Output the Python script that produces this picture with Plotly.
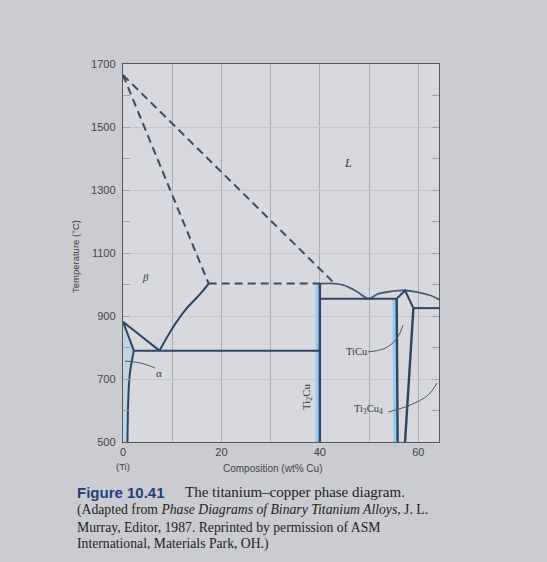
import plotly.graph_objects as go

# ---------------- data ----------------
X_TICKS = [0, 20, 40, 60]
Y_TICKS = [500, 700, 900, 1100, 1300, 1500, 1700]

# dashed liquidus / solidus of beta and the dashed peritectic line
LIQ_DASH_X = [0, 43.0]
LIQ_DASH_T = [1665, 1003]
SOL_DASH_X = [0, 17.4]
SOL_DASH_T = [1665, 1003]
PERI_DASH_X = [17.4, 40.0]
PERI_DASH_T = [1003, 1003]

# solid liquidus on the Cu-rich side
LIQ_X = [40.0, 43.0, 44.8, 47.5, 49.9, 51.8, 54.5, 57.3, 59.8, 62.5, 64.2]
LIQ_T = [1003, 1003, 998, 978, 955, 970, 978, 981, 976, 965, 952]

# beta transus lines
BETA_TR_X = [0, 7.4]
BETA_TR_T = [882, 790]
ALPHA_TR_X = [0, 2.2]
ALPHA_TR_T = [882, 790]

# alpha solvus
ALPHA_SOLV_X = [2.2, 1.4, 1.1, 0.9]
ALPHA_SOLV_T = [790, 718, 645, 500]

# beta / (beta + Ti2Cu)
BETA_SOLV_X = [7.4, 10.2, 12.6, 15.7, 17.4]
BETA_SOLV_T = [790, 865, 918, 970, 1003]

# eutectoid line
EUTECTOID_X = [2.2, 40.0]
EUTECTOID_T = [790, 790]

# Ti2Cu line compound
TI2CU_X = [40.0, 40.0]
TI2CU_T = [500, 1003]

# eutectic line
EUTECTIC_X = [40.0, 55.6]
EUTECTIC_T = [955, 955]

# TiCu phase boundaries
TICU_LEFT_X = [55.6, 55.8]
TICU_LEFT_T = [955, 500]
TICU_TOP_X = [55.6, 57.3, 59.0]
TICU_TOP_T = [955, 981, 925]
TICU_RIGHT_X = [59.0, 57.3]
TICU_RIGHT_T = [925, 500]

# peritectic line for Ti3Cu4
PERI2_X = [59.0, 64.2]
PERI2_T = [925, 925]

# alpha single-phase field
ALPHA_FIELD_X = [0, 2.2, 1.4, 1.1, 0.9, 0, 0]
ALPHA_FIELD_T = [882, 790, 718, 645, 500, 500, 882]

# label leaders
TICU_LEAD_X = [49.8, 53.3, 55.7, 56.9]
TICU_LEAD_T = [786, 798, 830, 871]
TI3CU4_LEAD_X = [53.9, 58.3, 62.0, 63.8]
TI3CU4_LEAD_T = [595, 617, 649, 687]
ALPHA_LEAD_X = [0.4, 3.5, 6.5]
ALPHA_LEAD_T = [757, 751, 735]

# ---------------- styles ----------------
LINE = "#2c4566"
DASH = "#3a4a62"
BLUE = "#93cbee"
W = 2.0

fig = go.Figure()


def add(x, y, color=LINE, width=W, dash=None, shape="linear"):
    fig.add_trace(go.Scatter(x=x, y=y, mode="lines", hoverinfo="skip",
                             line=dict(color=color, width=width, dash=dash, shape=shape)))


# light blue single-phase highlights
fig.add_trace(go.Scatter(x=ALPHA_FIELD_X, y=ALPHA_FIELD_T, mode="lines", fill="toself",
                         fillcolor="rgba(147,203,238,0.32)", line=dict(width=0),
                         hoverinfo="skip"))
add([v - 0.45 for v in TI2CU_X], TI2CU_T, color=BLUE, width=4)
add([v - 0.45 for v in TICU_LEFT_X], TICU_LEFT_T, color=BLUE, width=4)

# dashed
add(LIQ_DASH_X, LIQ_DASH_T, color=DASH, dash="8px,5px")
add(SOL_DASH_X, SOL_DASH_T, color=DASH, dash="8px,5px")
add(PERI_DASH_X, PERI_DASH_T, color=DASH, dash="8px,5px")

# solid boundaries
add(LIQ_X, LIQ_T, color="#4a5d74", width=1.8, shape="spline")
add(BETA_TR_X, BETA_TR_T)
add(ALPHA_TR_X, ALPHA_TR_T)
add(ALPHA_SOLV_X, ALPHA_SOLV_T, shape="spline")
add(BETA_SOLV_X, BETA_SOLV_T, shape="spline")
add(EUTECTOID_X, EUTECTOID_T)
add(TI2CU_X, TI2CU_T, width=2.4)
add(EUTECTIC_X, EUTECTIC_T)
add(TICU_LEFT_X, TICU_LEFT_T, width=2.4)
add(TICU_TOP_X, TICU_TOP_T)
add(TICU_RIGHT_X, TICU_RIGHT_T, width=2.4)
add(PERI2_X, PERI2_T)

# leaders
add(TICU_LEAD_X, TICU_LEAD_T, color="#4a5668", width=1, shape="spline")
add(TI3CU4_LEAD_X, TI3CU4_LEAD_T, color="#4a5668", width=1, shape="spline")
add(ALPHA_LEAD_X, ALPHA_LEAD_T, color="#4a5668", width=1, shape="spline")

# ---------------- layout ----------------
L, R, T, B = 123, 108, 64, 120
PW, PH = 547 - L - R, 562 - T - B


def px(xp):
    return (xp - L) / PW


def py(yp):
    return (562 - B - yp) / PH


serif = "Liberation Serif, Times New Roman, serif"
sans = "Liberation Sans, Arial, sans-serif"

ann = []


def txt(x, y, s, size=11, font=serif, color="#333", ref="data", angle=0, xanchor="center"):
    ann.append(dict(x=x, y=y, text=s, showarrow=False, xref="x" if ref == "data" else "paper",
                    yref="y" if ref == "data" else "paper", textangle=angle, xanchor=xanchor,
                    yanchor="middle", font=dict(family=font, size=size, color=color)))


txt(45.7, 1386, "<i>L</i>", 12)
txt(4.5, 1024, "<i>β</i>", 11)
txt(7.3, 719, "α", 11)
txt(47.5, 787, "TiCu", 10.5)
txt(49.9, 602, "Ti<sub>3</sub>Cu<sub>4</sub>", 10.5)
txt(37.4, 643, "Ti<sub>2</sub>Cu", 11, angle=-90)

# axis texts
txt(px(75), py(257), "Temperature (°C)", 9.5, font=sans, color="#3c3c3c", ref="paper", angle=-90)
txt(px(123), py(467), "(Ti)", 9.5, font=sans, color="#444", ref="paper")
txt(px(272), py(468), "Composition (wt% Cu)", 10, font=sans, color="#444", ref="paper")

# caption
txt(px(75), py(492), "<b>Figure 10.41</b>", 15, font=sans, color="#1f3f78", ref="paper", xanchor="left")
txt(px(183), py(492), "The titanium–copper phase diagram.", 15, font=serif, color="#222",
    ref="paper", xanchor="left")
txt(px(75), py(510), "(Adapted from <i>Phase Diagrams of Binary Titanium Alloys,</i> J. L.", 13.7,
    font=serif, color="#222", ref="paper", xanchor="left")
txt(px(75), py(527), "Murray, Editor, 1987. Reprinted by permission of ASM", 13.7,
    font=serif, color="#222", ref="paper", xanchor="left")
txt(px(75), py(544), "International, Materials Park, OH.)", 13.7,
    font=serif, color="#222", ref="paper", xanchor="left")

fig.update_layout(
    width=547, height=562,
    margin=dict(l=L, r=R, t=T, b=B),
    paper_bgcolor="#cbccd1",
    plot_bgcolor="#d8d9de",
    showlegend=False,
    annotations=ann,
    xaxis=dict(range=[0, 64.2], tickvals=X_TICKS, showgrid=True, gridcolor="#a9abb2", gridwidth=1,
               minor=dict(dtick=10, showgrid=True, gridcolor="#a9abb2", gridwidth=1),
               zeroline=False, showline=True, linecolor="#55575d", linewidth=1.4, mirror=True,
               ticks="", tickfont=dict(family=sans, size=11, color="#444")),
    yaxis=dict(range=[500, 1700], tickvals=Y_TICKS, showgrid=True, gridcolor="#c6c7cd", gridwidth=1,
               minor=dict(dtick=100, ticks="inside", ticklen=7, tickcolor="#a2a4aa", showgrid=False),
               zeroline=False, showline=True, linecolor="#55575d", linewidth=1.4, mirror="ticks",
               ticks="inside", ticklen=7, tickcolor="#a2a4aa",
               ticklabelstandoff=4,
               tickfont=dict(family=sans, size=11, color="#444")),
)

fig.write_html("out.html")
